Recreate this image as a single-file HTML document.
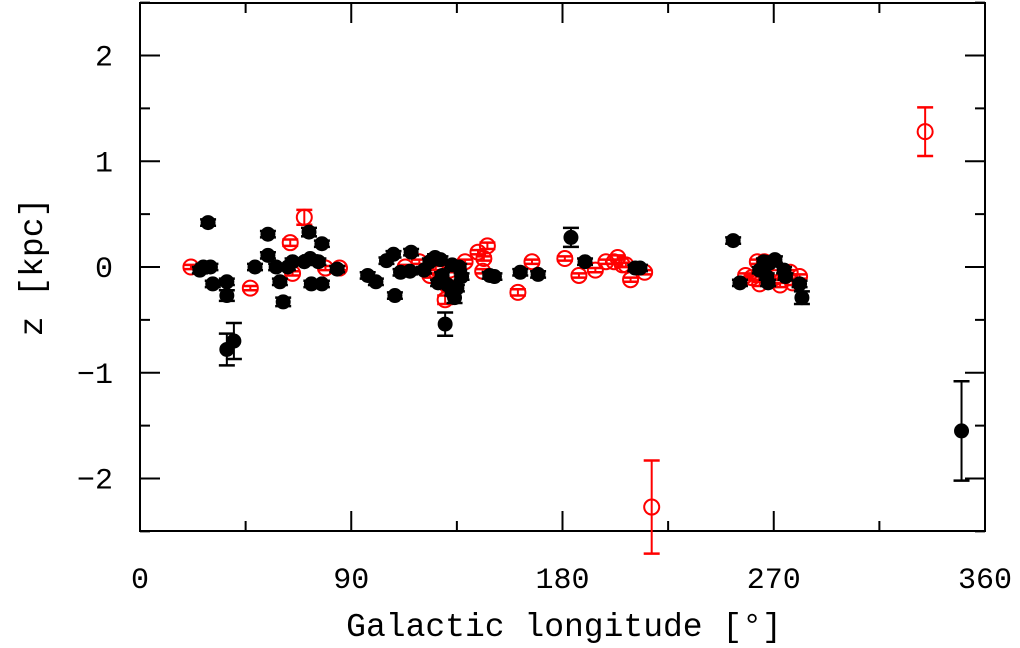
<!DOCTYPE html>
<html><head><meta charset="utf-8"><style>
body{margin:0;background:#fff;}
svg{display:block;font-family:"Liberation Mono",monospace;}
</style></head><body>
<svg id="chart" width="1020" height="648"></svg>
<script>
const blackLon=[29,27,25.5,30,31,37,37,37,40,49,54.5,54.5,58,61,59.6,63,65,72,72.5,73,77.5,77.5,76,70,84,97,100.5,105,108.6,108,115.5,115,111,121,123.5,125.7,128,130,128.7,131,133,134,135,136,133,137,127,149,151,162,169.6,183.6,189.6,211,213,252.7,255.6,264,265.8,267.6,268.4,267,270.5,274.4,275,281,282,350];
const blackZ=[0.42,0,-0.03,0,-0.16,-0.14,-0.27,-0.78,-0.70,0,0.31,0.11,0,-0.33,-0.14,0,0.05,0.33,0.08,-0.16,-0.16,0.22,0.05,0.05,-0.02,-0.08,-0.14,0.06,-0.27,0.12,0.14,-0.04,-0.05,-0.03,0.05,0.09,0.07,-0.54,-0.08,-0.17,-0.24,-0.29,-0.2,0,0.02,-0.09,-0.15,-0.08,-0.09,-0.05,-0.07,0.28,0.05,-0.01,-0.01,0.25,-0.15,-0.03,0.05,-0.15,0.04,-0.09,0.07,-0.03,-0.09,-0.16,-0.29,-1.55];
const blackErr=[0.03,0.03,0.03,0.03,0.03,0.03,0.05,0.15,0.17,0.03,0.03,0.03,0.03,0.04,0.03,0.03,0.03,0.04,0.03,0.03,0.03,0.03,0.03,0.03,0.03,0.03,0.03,0.03,0.03,0.03,0.03,0.03,0.03,0.03,0.03,0.03,0.03,0.11,0.03,0.03,0.03,0.05,0.03,0.03,0.03,0.03,0.03,0.03,0.03,0.03,0.03,0.09,0.03,0.03,0.03,0.03,0.03,0.03,0.03,0.03,0.03,0.03,0.03,0.03,0.03,0.03,0.06,0.47];
const redLon=[21.7,47,64,70,65,79,85,113,119,123.5,126,132,131,130,138.5,144,148,146.5,146,161,167,181,187,194,198.5,202,203.5,205.5,207,209,215,218,258,260.6,263,264,266,270.5,272.7,277,278,281,334.5];
const redZ=[0,-0.2,0.23,0.47,-0.06,-0.01,-0.01,0,0.05,-0.08,-0.01,-0.03,-0.18,-0.31,0.05,0.14,0.2,0.08,-0.04,-0.24,0.05,0.08,-0.08,-0.03,0.05,0.05,0.09,0.02,0.02,-0.12,-0.05,-2.27,-0.08,-0.1,0.05,-0.16,0.05,-0.1,-0.17,-0.05,-0.15,-0.09,1.28];
const redErr=[0.02,0.02,0.03,0.07,0.02,0.02,0.02,0.02,0.02,0.02,0.02,0.02,0.02,0.04,0.02,0.02,0.03,0.02,0.02,0.03,0.02,0.02,0.02,0.02,0.02,0.02,0.02,0.02,0.02,0.02,0.02,0.44,0.02,0.02,0.02,0.02,0.02,0.02,0.02,0.02,0.02,0.02,0.23];
const xTicks=[0,90,180,270,360];
const yTicks=[-2,-1,0,1,2];

const NS="http://www.w3.org/2000/svg";
const svg=document.getElementById('chart');
const L=140,R=985,T=3,B=531;
const x=v=>L+(v/360)*(R-L);
const y=v=>267-v*105.75;
function el(tag,attrs,parent){const e=document.createElementNS(NS,tag);for(const k in attrs)e.setAttribute(k,attrs[k]);(parent||svg).appendChild(e);return e;}

const axes=el('g',{});


const frame=el('rect',{x:L,y:T,width:R-L,height:B-T,fill:'none',stroke:'#000','stroke-width':2},axes);


for(let v=0;v<=360;v+=45){const maj=v%90===0,len=maj?20:10;
 el('line',{x1:x(v),x2:x(v),y1:B,y2:B-len,stroke:'#000','stroke-width':2},axes);
 el('line',{x1:x(v),x2:x(v),y1:T,y2:T+len,stroke:'#000','stroke-width':2},axes);}
for(let v=-2.5;v<=2.5;v+=0.5){const maj=Math.abs(v%1)<1e-6,len=maj?20:10;
 el('line',{x1:L,x2:L+len,y1:y(v),y2:y(v),stroke:'#000','stroke-width':2},axes);
 el('line',{x1:R,x2:R-len,y1:y(v),y2:y(v),stroke:'#000','stroke-width':2},axes);}
xTicks.forEach(v=>{const t=el('text',{x:x(v),y:588,'text-anchor':'middle','font-size':30},axes);t.textContent=v;
 
 });
yTicks.forEach(v=>{const t=el('text',{x:113,y:y(v)+10,'text-anchor':'end','font-size':30},axes);t.textContent=v<0?'\u2212'+(-v):v;
 
 });
const xt=el('text',{x:564,y:636,'text-anchor':'middle','font-size':33},axes);xt.textContent='Galactic longitude [\u00b0]';


const yt=el('text',{x:0,y:0,'text-anchor':'middle','font-size':33,transform:'translate(42,267) rotate(-90)'},axes);yt.textContent='z [kpc]';



function drawSeries(lon,z,err,color,filled,name){
 const g=el('g',{});
 
 
 lon.forEach((l,i)=>{const cx=x(l),cy=y(z[i]),y1=y(z[i]+err[i]),y2=y(z[i]-err[i]);
  el('line',{x1:cx,x2:cx,y1:y1,y2:y2,stroke:color,'stroke-width':2},g);
  el('line',{x1:cx-8,x2:cx+8,y1:y1,y2:y1,stroke:color,'stroke-width':2.5},g);
  el('line',{x1:cx-8,x2:cx+8,y1:y2,y2:y2,stroke:color,'stroke-width':2.5},g);
  const c=el('circle',{cx:cx,cy:cy,r:filled?7:7.5,fill:filled?color:'none',stroke:color,'stroke-width':filled?1:2},g);
  
  
 });
}
drawSeries(redLon,redZ,redErr,'#ff0000',false,'red-open-series');
drawSeries(blackLon,blackZ,blackErr,'#000',true,'black-filled-series');
</script>
</body></html>
